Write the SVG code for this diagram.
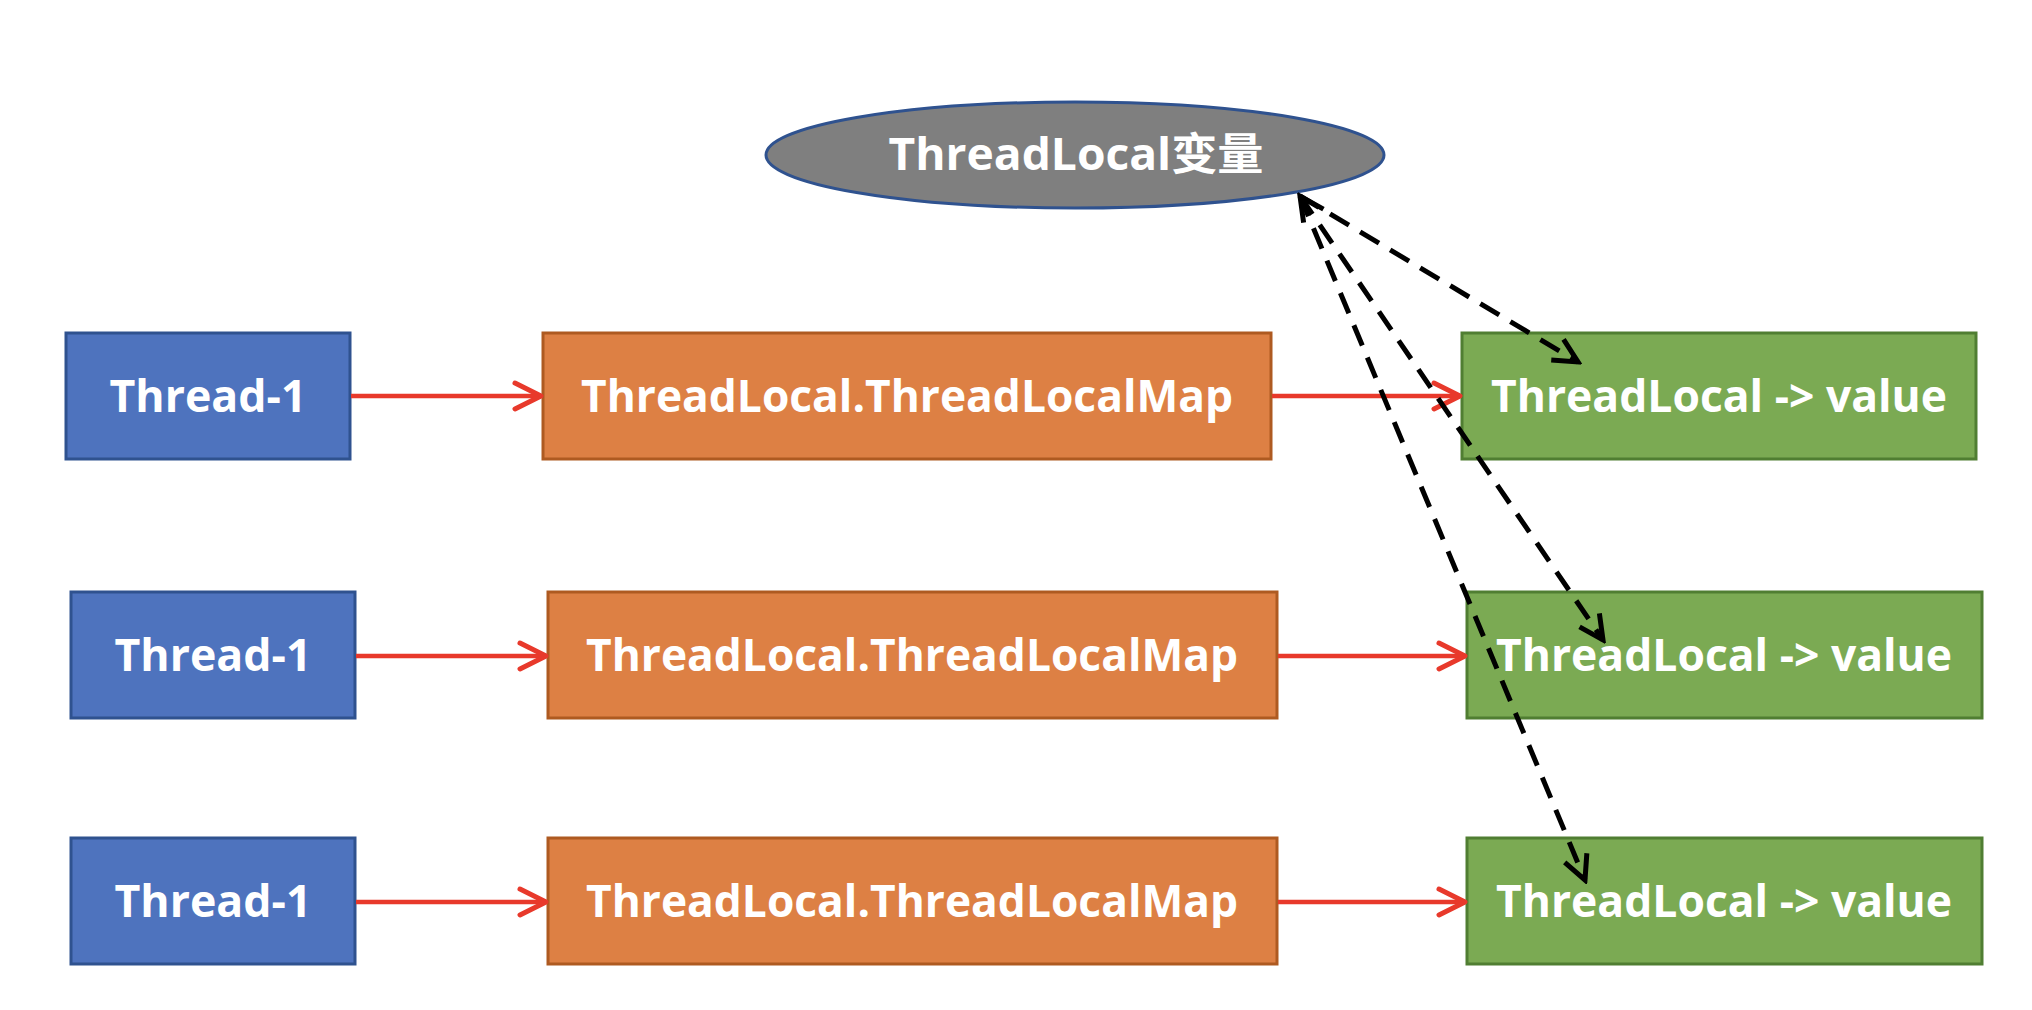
<svg xmlns="http://www.w3.org/2000/svg" width="2032" height="1010" viewBox="0 0 2032 1010">
<style>
.lbl{font-family:"Open Sans","Noto Sans","Noto Sans CJK SC",sans-serif;font-weight:bold;font-size:44px;fill:#FFFFFF;text-anchor:middle}
.blue{fill:#4E73BE;stroke:#2F528F;stroke-width:3}
.orange{fill:#DD8044;stroke:#AE5A21;stroke-width:3}
.green{fill:#7BAA53;stroke:#507E32;stroke-width:3}
.red{stroke:#E8392B;stroke-width:4.5;fill:none;marker-end:url(#ra)}
.dash{stroke:#000000;stroke-width:5;fill:none;stroke-dasharray:22 13;marker-end:url(#ba)}
</style>
<defs>
<marker id="ra" viewBox="0 0 34 34" refX="30" refY="17" markerWidth="34" markerHeight="34" orient="auto" markerUnits="userSpaceOnUse">
<path d="M4,4 L30,17 L4,30" fill="none" stroke="#E8392B" stroke-width="5" stroke-linecap="round" stroke-linejoin="round"/>
</marker>
<marker id="ba" viewBox="0 0 32 32" refX="28" refY="16" markerWidth="32" markerHeight="32" orient="auto-start-reverse" markerUnits="userSpaceOnUse">
<path d="M4,4 L28,16 L4,28" fill="none" stroke="#000000" stroke-width="5" stroke-linejoin="miter"/>
</marker>
</defs>
<rect width="2032" height="1010" fill="#FFFFFF"/>
<g id="threadlocal-var">
<ellipse cx="1075" cy="155" rx="309" ry="53" fill="#7F7F7F" stroke="#2F528F" stroke-width="3"/>
<text class="lbl" x="1076" y="170" textLength="375" lengthAdjust="spacingAndGlyphs">ThreadLocal变量</text>
</g>
<g id="thread-1a"><rect class="blue" x="66" y="333" width="284" height="126"/><text class="lbl" x="208" y="412" textLength="197" lengthAdjust="spacingAndGlyphs">Thread-1</text></g>
<g id="map-1"><rect class="orange" x="543" y="333" width="728" height="126"/><text class="lbl" x="907" y="412" textLength="652" lengthAdjust="spacingAndGlyphs">ThreadLocal.ThreadLocalMap</text></g>
<g id="value-1"><rect class="green" x="1462" y="333" width="514" height="126"/><text class="lbl" x="1719" y="412" textLength="456" lengthAdjust="spacingAndGlyphs">ThreadLocal -&gt; value</text></g>
<g id="thread-1b"><rect class="blue" x="71" y="592" width="284" height="126"/><text class="lbl" x="213" y="671" textLength="197" lengthAdjust="spacingAndGlyphs">Thread-1</text></g>
<g id="map-2"><rect class="orange" x="548" y="592" width="729" height="126"/><text class="lbl" x="912" y="671" textLength="652" lengthAdjust="spacingAndGlyphs">ThreadLocal.ThreadLocalMap</text></g>
<g id="value-2"><rect class="green" x="1467" y="592" width="515" height="126"/><text class="lbl" x="1724" y="671" textLength="456" lengthAdjust="spacingAndGlyphs">ThreadLocal -&gt; value</text></g>
<g id="thread-1c"><rect class="blue" x="71" y="838" width="284" height="126"/><text class="lbl" x="213" y="917" textLength="197" lengthAdjust="spacingAndGlyphs">Thread-1</text></g>
<g id="map-3"><rect class="orange" x="548" y="838" width="729" height="126"/><text class="lbl" x="912" y="917" textLength="652" lengthAdjust="spacingAndGlyphs">ThreadLocal.ThreadLocalMap</text></g>
<g id="value-3"><rect class="green" x="1467" y="838" width="515" height="126"/><text class="lbl" x="1724" y="917" textLength="456" lengthAdjust="spacingAndGlyphs">ThreadLocal -&gt; value</text></g>
<g id="connectors">
<line class="red" x1="351" y1="396" x2="541" y2="396"/>
<line class="red" x1="1272" y1="396" x2="1460" y2="396"/>
<line class="red" x1="356" y1="656" x2="546" y2="656"/>
<line class="red" x1="1278" y1="656" x2="1465" y2="656"/>
<line class="red" x1="356" y1="902" x2="546" y2="902"/>
<line class="red" x1="1278" y1="902" x2="1465" y2="902"/>
<line class="dash" x1="1300" y1="196" x2="1578" y2="362"/>
<line class="dash" x1="1300" y1="196" x2="1603" y2="640" style="marker-start:url(#ba)"/>
<line class="dash" x1="1300" y1="196" x2="1585" y2="880"/>
</g>
</svg>
